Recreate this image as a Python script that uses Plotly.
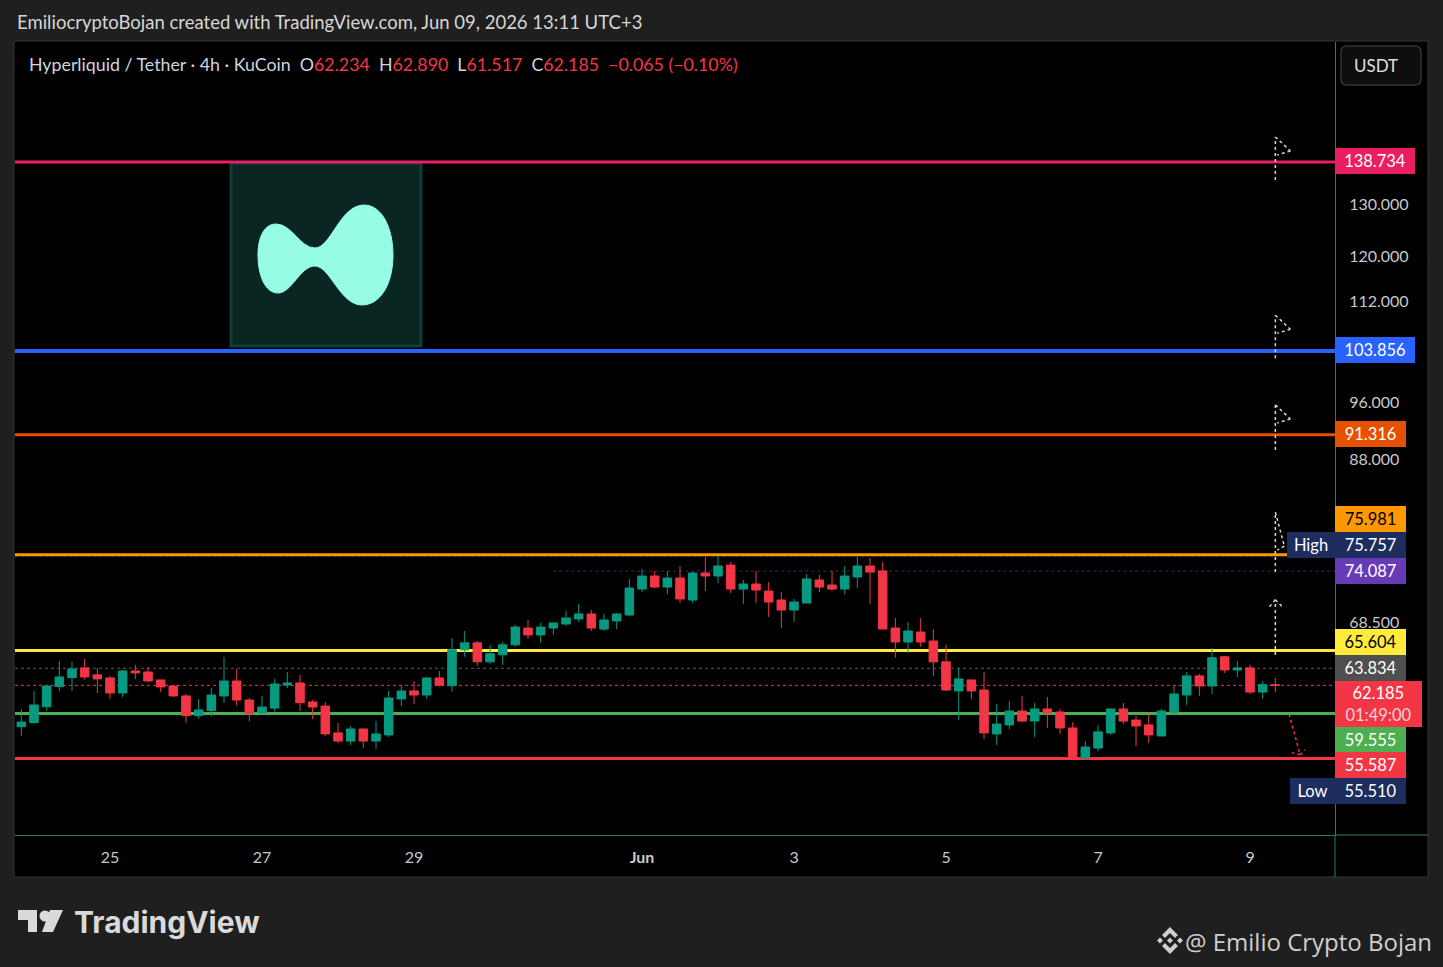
import re
import numpy as np
import pandas as pd
import plotly.graph_objects as go

# 4h candles, timestamps in UTC (the chart itself is shown in UTC+3)
candle_times = pd.date_range("2026-05-23 20:00", periods=100, freq="4h")

opens = [58.36, 58.72, 60.18, 62.06, 62.92, 63.87, 63.19, 62.89, 61.46, 63.57,
         63.47, 62.70, 62.12, 61.18, 59.36, 59.82, 61.18, 62.60, 60.80, 59.62,
         60.05, 62.22, 62.41, 60.62, 60.24, 57.81, 57.09, 58.16, 57.09, 57.63,
         60.90, 61.65, 61.27, 62.89, 62.15, 65.67, 66.37, 64.47, 65.17, 66.17,
         67.90, 67.18, 67.90, 68.32, 68.85, 69.38, 67.79, 68.64, 69.27, 72.08,
         73.54, 72.30, 73.31, 70.88, 73.88, 73.54, 74.78, 72.08, 72.64, 71.86,
         70.88, 69.80, 70.55, 73.09, 72.53, 72.08, 73.42, 74.67, 74.11, 67.90,
         66.46, 67.48, 66.56, 64.47, 61.65, 62.70, 61.74, 57.72, 58.52, 59.78,
         58.87, 59.97, 59.69, 58.25, 55.62, 56.48, 57.81, 59.97, 58.96, 58.52,
         57.54, 59.69, 61.27, 63.09, 62.12, 64.97, 63.67, 63.87, 61.55, 62.234]
highs = [59.97, 61.65, 62.15, 64.57, 64.47, 64.77, 63.87, 63.09, 63.67, 64.17,
         63.97, 62.70, 62.12, 61.36, 60.90, 61.93, 64.97, 63.77, 60.99, 61.18,
         62.80, 63.47, 63.18, 60.80, 60.62, 58.69, 58.43, 58.16, 58.87, 61.65,
         62.22, 62.60, 62.99, 63.57, 66.86, 67.59, 66.56, 66.17, 66.46, 68.22,
         68.74, 68.43, 68.43, 69.70, 70.45, 69.80, 69.38, 69.48, 73.20, 74.33,
         74.11, 74.11, 74.67, 74.00, 75.70, 75.757, 75.13, 73.09, 74.11, 72.86,
         71.75, 70.99, 73.76, 73.65, 74.11, 74.67, 75.70, 75.59, 75.13, 68.95,
         68.53, 68.95, 67.79, 66.17, 63.87, 62.70, 63.47, 60.43, 60.71, 61.18,
         60.52, 61.08, 59.97, 58.78, 57.09, 58.52, 60.06, 60.52, 59.36, 59.60,
         59.97, 62.12, 63.47, 63.28, 65.87, 65.07, 64.57, 64.17, 62.60, 62.890]
lows = [57.56, 58.70, 59.82, 61.65, 61.65, 62.73, 61.46, 60.90, 61.08, 62.80,
        62.51, 61.55, 61.08, 58.72, 59.08, 59.27, 60.55, 60.27, 58.87, 59.54,
        59.73, 61.93, 59.78, 59.05, 57.54, 56.92, 56.74, 56.48, 56.40, 57.45,
        60.24, 60.43, 60.90, 62.06, 61.59, 64.97, 64.07, 64.27, 64.17, 65.97,
        66.77, 66.37, 67.18, 68.11, 68.53, 67.59, 67.59, 67.79, 69.17, 71.74,
        72.19, 71.52, 70.55, 70.55, 71.86, 72.75, 71.64, 70.45, 70.55, 69.06,
        67.90, 68.53, 70.55, 71.75, 71.86, 71.52, 72.19, 70.45, 67.79, 64.87,
        65.37, 65.97, 63.09, 61.65, 58.96, 60.90, 57.27, 56.74, 58.16, 58.78,
        57.45, 58.25, 57.72, 55.60, 55.51, 56.22, 57.63, 58.60, 56.65, 56.92,
        57.54, 59.42, 60.34, 61.18, 61.36, 63.38, 62.99, 61.36, 60.90, 61.517]
closes = [58.78, 60.34, 62.12, 62.99, 63.77, 62.99, 62.80, 61.46, 63.57, 63.38,
          62.60, 62.03, 61.18, 59.36, 59.88, 61.27, 62.60, 60.80, 59.54, 60.15,
          62.31, 62.41, 60.55, 60.15, 57.72, 57.09, 58.16, 57.09, 57.72, 60.99,
          61.65, 61.27, 62.89, 62.19, 65.67, 66.37, 64.47, 65.27, 66.17, 68.00,
          67.18, 68.00, 68.43, 68.95, 69.38, 67.90, 68.74, 69.38, 72.19, 73.53,
          72.30, 73.31, 70.99, 73.88, 73.54, 74.67, 72.08, 72.64, 71.97, 70.66,
          69.80, 70.66, 73.20, 72.30, 72.08, 73.54, 74.67, 73.98, 67.79, 66.46,
          67.59, 66.46, 64.47, 61.74, 62.80, 61.65, 57.81, 58.60, 59.78, 58.87,
          59.97, 59.60, 58.25, 55.75, 56.57, 57.90, 59.97, 58.87, 58.43, 57.63,
          59.78, 61.36, 63.09, 62.12, 64.87, 63.67, 63.87, 61.55, 62.25, 62.185]

# horizontal levels drawn on the chart
level_prices = [138.734, 103.856, 91.316, 75.981, 65.604, 59.555, 55.587]
level_colors = ["#e91e63", "#2962ff", "#e65100", "#ff9800", "#ffeb3b", "#4caf50", "#f23645"]
level_widths = [3, 4, 3, 3, 3, 3, 3]

# dotted reference lines: (price, colour, start date or None)
dotted_prices = [75.757, 74.087, 63.834, 62.185]
dotted_colors = ["#2a3a8c", "#33307a", "#5a5a5a", "#f23645"]
dotted_starts = [None, "2026-05-30 20:00", None, None]

# projection arrows at the right end
arrow_time = "2026-06-09 08:00"
arrow_from = [135.0, 102.7, 89.2, 74.0, 65.15]
arrow_to = [144.2, 109.7, 95.6, 81.1, 70.9]
down_from = ("2026-06-09 12:20", 59.5)
down_to = ("2026-06-09 15:50", 55.9)

y_tickvals = [130, 120, 112, 96, 88, 68.5]
y_ticktext = ["130.000", "120.000", "112.000", "96.000", "88.000", "68.500"]
x_tickvals = ["2026-05-25", "2026-05-27", "2026-05-29", "2026-06-01",
              "2026-06-03", "2026-06-05", "2026-06-07", "2026-06-09"]
x_ticktext = ["25", "27", "29", "<b>Jun</b>", "3", "5", "7", "9"]

# right-hand price tags: text, background, text colour, centre (px)
tag_text = ["138.734", "103.856", "91.316", "75.981", "75.757", "74.087",
            "65.604", "63.834", "62.185<br><span style='color:#f7d3d6'>01:49:00</span>",
            "59.555", "55.587", "55.510"]
tag_bg = ["#e91e63", "#2962ff", "#e65100", "#ff9800", "#1c2d5e", "#673ab7",
          "#ffeb3b", "#4f4f4f", "#f23645", "#4caf50", "#f23645", "#1c2d5e"]
tag_fg = ["white", "white", "white", "black", "white", "white",
          "black", "white", "white", "white", "white", "white"]
tag_y = [161, 350, 434, 519, 545, 571, 642, 668, 704, 740, 765, 791]

UP = "#089981"
DOWN = "#f23645"
FONT = "Lato, 'Open Sans', sans-serif"

W, H = 1443, 967
L, R, T, B = 15, 1335, 42, 835


def px(x):
    return (x - L) / (R - L)


def py(y):
    return (B - y) / (B - T)


def paper_path(d):
    out, toggle = [], 0
    for tok in re.findall(r"[A-Za-z]|-?\d+\.?\d*", d):
        if tok.isalpha():
            out.append(tok)
            toggle = 0
        else:
            v = float(tok)
            out.append(f"{px(v):.5f}" if toggle == 0 else f"{py(v):.5f}")
            toggle ^= 1
    return " ".join(out)


def shift(t, p, dx, dy):
    # offset a drawing point by screen pixels (76 px per day, 652 px per ln unit)
    return (pd.Timestamp(t) + pd.Timedelta(days=dx / 76.0)), p * np.exp(-dy / 652.0)


fig = go.Figure()
fig.add_trace(go.Candlestick(
    x=candle_times, open=opens, high=highs, low=lows, close=closes,
    increasing=dict(line=dict(color=UP, width=1), fillcolor=UP),
    decreasing=dict(line=dict(color=DOWN, width=1), fillcolor=DOWN),
    whiskerwidth=0, showlegend=False, hoverinfo="skip",
))

shapes = []
# chart frame
shapes.append(dict(type="rect", xref="paper", yref="paper",
                   x0=px(14), x1=px(1428), y0=py(877), y1=py(41),
                   fillcolor="black", line=dict(color="#363636", width=1), layer="below"))
# axis separators continuing into the scale areas
shapes.append(dict(type="line", xref="paper", yref="paper", x0=1, x1=px(1428), y0=0, y1=0,
                   line=dict(color="#1f8276", width=1)))
shapes.append(dict(type="line", xref="paper", yref="paper", x0=1, x1=1, y0=py(877), y1=0,
                   line=dict(color="#1f8276", width=1)))
# logo box
shapes.append(dict(type="rect", xref="paper", yref="paper",
                   x0=px(231), x1=px(421), y0=py(346), y1=py(163),
                   fillcolor="#0a2622", line=dict(color="#0f3d36", width=3), layer="below"))
logo = ("M 258 255 C 258 236 265 224 276 224 C 292 224 300 248 315 248 "
        "C 331 248 340 205 364 205 C 382 205 393 228 393 255 "
        "C 393 283 381 305 362 305 C 340 305 330 266 315 266 "
        "C 300 266 292 293 278 293 C 265 293 258 275 258 255 Z")
shapes.append(dict(type="path", xref="paper", yref="paper", path=paper_path(logo),
                   fillcolor="#97fce4", line=dict(color="#97fce4", width=1), layer="below"))

for p, c, w in zip(level_prices, level_colors, level_widths):
    shapes.append(dict(type="line", xref="paper", yref="y", x0=0, x1=1, y0=p, y1=p,
                       line=dict(color=c, width=w), layer="below"))
for p, c, s in zip(dotted_prices, dotted_colors, dotted_starts):
    if s is None:
        shapes.append(dict(type="line", xref="paper", yref="y", x0=0, x1=1, y0=p, y1=p,
                           line=dict(color=c, width=1, dash="dot"), layer="below"))
    else:
        shapes.append(dict(type="line", xref="x", yref="y", x0=s, x1="2026-06-10 02:50",
                           y0=p, y1=p, line=dict(color=c, width=1, dash="dot"), layer="below"))

# dotted projection arrows
arrow_line = dict(color="#d8d8d8", width=1.5, dash="dot")
for i, (a, b) in enumerate(zip(arrow_from, arrow_to)):
    shapes.append(dict(type="line", xref="x", yref="y", x0=arrow_time, x1=arrow_time,
                       y0=a, y1=b, line=arrow_line))
    if i == 4:
        for dx, dy in [(-6, 7), (7, 7)]:
            t1, p1 = shift(arrow_time, b, dx, dy)
            shapes.append(dict(type="line", xref="x", yref="y", x0=arrow_time, x1=t1,
                               y0=b, y1=p1, line=arrow_line))
    else:
        hx, hy = (9, 34) if i == 3 else (15, 14)
        t1, p1 = shift(arrow_time, b, hx, hy)
        t2, p2 = shift(arrow_time, b, 2, hy + 4)
        shapes.append(dict(type="line", xref="x", yref="y", x0=arrow_time, x1=t1,
                           y0=b, y1=p1, line=arrow_line))
        shapes.append(dict(type="line", xref="x", yref="y", x0=t1, x1=t2,
                           y0=p1, y1=p2, line=arrow_line))
red_line = dict(color="#f23645", width=1.5, dash="dot")
shapes.append(dict(type="line", xref="x", yref="y", x0=down_from[0], x1=down_to[0],
                   y0=down_from[1], y1=down_to[1], line=red_line))
for dx, dy in [(-8, -2), (5, -5)]:
    t1, p1 = shift(down_to[0], down_to[1], dx, dy)
    shapes.append(dict(type="line", xref="x", yref="y", x0=down_to[0], x1=t1,
                       y0=down_to[1], y1=p1, line=red_line))

# USDT button
usdt = ("M 1347 46 L 1415 46 C 1419 46 1421 48 1421 52 L 1421 79 C 1421 83 1419 85 1415 85 "
        "L 1347 85 C 1343 85 1341 83 1341 79 L 1341 52 C 1341 48 1343 46 1347 46 Z")
shapes.append(dict(type="path", xref="paper", yref="paper", path=paper_path(usdt),
                   fillcolor="#0e0e0e", line=dict(color="#333333", width=1.5)))

# TradingView mark
tv_icon = ["M 18 910 L 37 910 L 37 932 L 28 932 L 28 920 L 18 920 Z",
           "M 50 910 L 63 910 L 53 932 L 42 932 Z"]
for d in tv_icon:
    shapes.append(dict(type="path", xref="paper", yref="paper", path=paper_path(d),
                       fillcolor="#dadada", line=dict(width=0)))
shapes.append(dict(type="circle", xref="paper", yref="paper",
                   x0=px(39.5), x1=px(50.5), y0=py(921.5), y1=py(910.5),
                   fillcolor="#dadada", line=dict(width=0)))
# small exchange mark before the watermark
bn = ["M 1170 927 L 1178 935 L 1175 938 L 1170 933 L 1165 938 L 1162 935 Z",
      "M 1170 954 L 1178 946 L 1175 943 L 1170 948 L 1165 943 L 1162 946 Z",
      "M 1170 937.5 L 1173 940.5 L 1170 943.5 L 1167 940.5 Z",
      "M 1160 937.5 L 1163 940.5 L 1160 943.5 L 1157 940.5 Z",
      "M 1180 937.5 L 1183 940.5 L 1180 943.5 L 1177 940.5 Z"]
for d in bn:
    shapes.append(dict(type="path", xref="paper", yref="paper", path=paper_path(d),
                       fillcolor="#d0d0d0", line=dict(width=0)))

annotations = []
annotations.append(dict(xref="paper", yref="paper", x=px(15), y=py(22), xanchor="left",
                        yanchor="middle", showarrow=False,
                        text="EmiliocryptoBojan created with TradingView.com, Jun 09, 2026 13:11 UTC+3",
                        font=dict(family=FONT, size=18.5, color="#d6d6d6")))

chg = closes[-1] - closes[-2]
pct = chg / closes[-2] * 100
red = "<span style='color:#f23645'>{}</span>"
nb = "\u00a0"
legend = ("Hyperliquid / Tether · 4h · KuCoin" + nb * 2 +
          "O" + red.format(f"{opens[-1]:.3f}") + nb * 2 +
          "H" + red.format(f"{highs[-1]:.3f}") + nb * 2 +
          "L" + red.format(f"{lows[-1]:.3f}") + nb * 2 +
          "C" + red.format(f"{closes[-1]:.3f}") + nb * 2 +
          red.format(f"{chg:.3f} ({pct:.2f}%)".replace("-", "\u2212")))
annotations.append(dict(xref="paper", yref="paper", x=px(27), y=py(64), xanchor="left",
                        yanchor="middle", showarrow=False, text=legend,
                        font=dict(family=FONT, size=17.8, color="#d1d4dc")))
annotations.append(dict(xref="paper", yref="paper", x=px(1376), y=py(66), xanchor="center",
                        yanchor="middle", showarrow=False, text="USDT",
                        font=dict(family=FONT, size=17, color="#e0e0e0")))

for txt, bg, fg, yc in zip(tag_text, tag_bg, tag_fg, tag_y):
    two = "<br>" in txt
    wide = len(txt) >= 7
    annotations.append(dict(xref="paper", yref="paper", x=1, y=py(yc), xanchor="left",
                            yanchor="middle", showarrow=False, text=txt,
                            width=83 if two else (76 if wide else 67),
                            height=42 if two else 22,
                            borderpad=2, borderwidth=0, bgcolor=bg, align="center",
                            font=dict(family=FONT, size=16.5, color=fg)))
for txt, yc, w in [("High", 545, 44), ("Low", 791, 41)]:
    annotations.append(dict(xref="paper", yref="paper", x=1, y=py(yc), xanchor="right",
                            yanchor="middle", showarrow=False, text=txt, width=w, height=22,
                            borderpad=2, borderwidth=0, bgcolor="#1c2d5e", align="center",
                            font=dict(family=FONT, size=16.5, color="white")))

annotations.append(dict(xref="paper", yref="paper", x=px(72), y=py(922), xanchor="left",
                        yanchor="middle", showarrow=False, text="<b>TradingView</b>",
                        font=dict(family="Inter, Lato, sans-serif", size=30, color="#dadada")))
annotations.append(dict(xref="paper", yref="paper", x=px(1434), y=py(941), xanchor="right",
                        yanchor="middle", showarrow=False, text="@ Emilio Crypto Bojan",
                        font=dict(family="'Open Sans', sans-serif", size=24, color="#cfcfcf")))

fig.update_layout(
    width=W, height=H,
    margin=dict(l=L, r=W - R, t=T, b=H - B, pad=0),
    paper_bgcolor="#1f1f1f",
    plot_bgcolor="black",
    font=dict(family=FONT, color="#b2b5be"),
    boxgap=0.25, boxgroupgap=0.1,
    shapes=shapes,
    annotations=annotations,
    showlegend=False,
    xaxis=dict(
        type="date",
        range=["2026-05-23 18:00", "2026-06-10 02:50"],
        rangeslider=dict(visible=False),
        tickvals=x_tickvals, ticktext=x_ticktext,
        tickfont=dict(size=16, color="#c8c8c8"),
        ticks="outside", ticklen=8, tickcolor="rgba(0,0,0,0)",
        showgrid=False, zeroline=False,
        showline=True, linecolor="#1f8276", linewidth=1,
    ),
    yaxis=dict(
        type="log", side="right",
        range=[np.log10(49.43), np.log10(166.8)],
        tickvals=y_tickvals, ticktext=y_ticktext,
        tickfont=dict(size=16, color="#c8c8c8"),
        ticks="outside", ticklen=10, tickcolor="rgba(0,0,0,0)",
        showgrid=False, zeroline=False,
        showline=True, linecolor="#1f8276", linewidth=1,
    ),
)

fig.write_html("out.html", config={"displayModeBar": False},
               post_script="document.body.style.margin='0';document.body.style.overflow='hidden';")
